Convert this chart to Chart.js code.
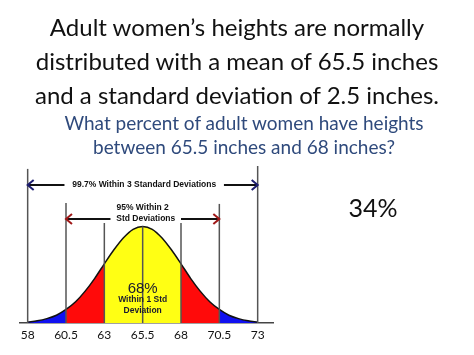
<!DOCTYPE html>
<html>
<head>
<meta charset="utf-8">
<script src="https://cdn.jsdelivr.net/npm/chart.js@4.4.1/dist/chart.umd.min.js"></script>
<style>
    html, body { margin: 0; padding: 0; background: #fff; }
    #wrap { position: relative; width: 474px; height: 355px; overflow: hidden; }
    #chart { position: absolute; left: 0; top: 0; }
    .heading { position: absolute; left: 0; width: 474px; text-align: center; font-family: Lato, "Open Sans", sans-serif; }
    #title { top: 10px; font-size: 24px; line-height: 34px; color: #111; }
    #subtitle { top: 111px; font-size: 19px; line-height: 24px; color: #2f4a7c; padding-left: 14px; box-sizing: border-box; }
    #answer { position: absolute; left: 323px; width: 100px; top: 192px; text-align: center; font-family: Lato, "Open Sans", sans-serif; font-size: 25px; line-height: 30px; color: #111; }
</style>
</head>
<body>
<div id="wrap">
    <canvas id="chart" width="474" height="355"></canvas>
    <div id="title" class="heading">Adult women’s heights are normally<br>distributed with a mean of 65.5 inches<br>and a standard deviation of 2.5 inches.</div>
    <div id="subtitle" class="heading">What percent of adult women have heights<br>between 65.5 inches and 68 inches?</div>
    <div id="answer">34%</div>
</div>
<script>
// 身高 (inches), 每 1/4 个标准差一个点
const heights = [58, 58.625, 59.25, 59.875, 60.5, 61.125, 61.75, 62.375, 63, 63.625, 64.25, 64.875, 65.5,
                 66.125, 66.75, 67.375, 68, 68.625, 69.25, 69.875, 70.5, 71.125, 71.75, 72.375, 73];
// 曲线高度 (读图估计, 峰值约 40)
const density = [0.4, 0.9, 1.8, 3.2, 5.6, 8.8, 13.2, 18.5, 24.5, 30.3, 35.3, 38.8, 40.0,
                 38.8, 35.3, 30.3, 24.5, 18.5, 13.2, 8.8, 5.6, 3.2, 1.8, 0.9, 0.4];
// 坐标轴刻度
const tickValues = [58, 60.5, 63, 65.5, 68, 70.5, 73];
// 着色区间
const regionBounds = [[58, 60.5], [60.5, 63], [63, 68], [68, 70.5], [70.5, 73]];
const regionColors = ['#1010f0', '#ff0a0a', '#ffff14', '#ff0a0a', '#1010f0'];

const points = heights.map((x, i) => ({ x: x, y: density[i] }));

// 轮廓线
const datasets = [{
    data: points,
    borderColor: '#111',
    borderWidth: 1.5,
    pointRadius: 0,
    fill: false,
    cubicInterpolationMode: 'monotone'
}];
// 各区间填充
regionBounds.forEach(function(b, i) {
    datasets.push({
        data: points.filter(p => p.x >= b[0] && p.x <= b[1]),
        borderWidth: 0,
        borderColor: 'rgba(0,0,0,0)',
        backgroundColor: regionColors[i],
        pointRadius: 0,
        fill: 'origin',
        cubicInterpolationMode: 'monotone'
    });
});

// 竖线与箭头标注
const markers = {
    id: 'markers',
    afterDatasetsDraw(chart) {
        const ctx = chart.ctx;
        const xs = chart.scales.x;
        const ys = chart.scales.y;
        const X = v => xs.getPixelForValue(v);
        const Y = v => ys.getPixelForValue(v);
        const base = Y(0);

        // 竖线
        const lineTops = [[58, 63.8], [60.5, 49.7], [63, 41.4], [65.5, 40], [68, 41.4], [70.5, 49.3], [73, 65]];
        ctx.save();
        ctx.strokeStyle = '#555';
        ctx.lineWidth = 1.5;
        lineTops.forEach(function(l) {
            ctx.beginPath();
            ctx.moveTo(X(l[0]), base);
            ctx.lineTo(X(l[0]), Y(l[1]));
            ctx.stroke();
        });

        function chevron(x, y, dir, color) {
            ctx.strokeStyle = color;
            ctx.lineWidth = 2;
            ctx.beginPath();
            ctx.moveTo(x - dir * 6, y - 5);
            ctx.lineTo(x, y);
            ctx.lineTo(x - dir * 6, y + 5);
            ctx.stroke();
        }
        function arrow(x1, x2, gap1, gap2, y, headColor) {
            ctx.strokeStyle = '#111';
            ctx.lineWidth = 2;
            ctx.beginPath();
            ctx.moveTo(x1 + 1, y); ctx.lineTo(gap1, y);
            ctx.moveTo(gap2, y); ctx.lineTo(x2 - 1, y);
            ctx.stroke();
            chevron(x1, y, -1, headColor);
            chevron(x2, y, 1, headColor);
        }

        // 99.7% 箭头
        const y3 = Y(57.1);
        arrow(X(58), X(73), X(60.4), X(70.8), y3, '#1c1c70');
        // 95% 箭头
        const y2 = Y(43.1);
        arrow(X(60.5), X(70.5), X(63.4), X(68.0), y2, '#a01818');

        ctx.fillStyle = '#111';
        ctx.textAlign = 'center';
        ctx.textBaseline = 'middle';
        ctx.font = 'bold 8.5px "Liberation Sans", Arial, sans-serif';
        ctx.fillText('99.7% Within 3 Standard Deviations', X(65.6), y3);
        ctx.fillText('95% Within 2', X(65.5), y2 - 11);
        ctx.fillText('Std Deviations', X(65.7), y2);

        // 中心区域文字
        ctx.fillStyle = '#1a1a30';
        ctx.font = '15px "Liberation Sans", Arial, sans-serif';
        ctx.fillText('68%', X(65.5), Y(14.0));
        ctx.font = 'bold 8.5px "Liberation Sans", Arial, sans-serif';
        ctx.fillText('Within 1 Std', X(65.5), Y(9.6));
        ctx.fillText('Deviation', X(65.5), Y(5.2));
        ctx.restore();
    }
};

new Chart(document.getElementById('chart'), {
    type: 'line',
    data: { datasets: datasets },
    plugins: [markers],
    options: {
        responsive: false,
        animation: false,
        layout: { padding: { left: 20, right: 201, top: 166, bottom: 12 } },
        plugins: {
            legend: { display: false },
            tooltip: { enabled: false }
        },
        scales: {
            x: {
                type: 'linear',
                min: 57.5,
                max: 74,
                grid: { display: false, drawTicks: false },
                border: { display: true, color: '#444', width: 1.5 },
                afterBuildTicks: function(scale) {
                    scale.ticks = tickValues.map(v => ({ value: v }));
                },
                afterFit: function(scale) { scale.height = 20; },
                ticks: {
                    padding: 5,
                    maxRotation: 0,
                    autoSkip: false,
                    color: '#111',
                    font: { family: 'Lato, "Open Sans", sans-serif', size: 12 },
                    callback: function(value) { return String(value); }
                }
            },
            y: {
                display: false,
                min: 0,
                max: 65
            }
        }
    }
});
</script>
</body>
</html>
